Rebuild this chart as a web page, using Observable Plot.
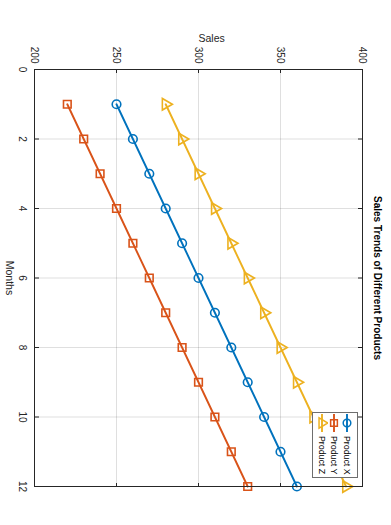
<!DOCTYPE html>
<html>
<head>
<meta charset="utf-8">
<script src="https://cdn.jsdelivr.net/npm/d3@7"></script>
<script src="https://cdn.jsdelivr.net/npm/@observablehq/plot@0.6"></script>
<style>
  html, body { margin: 0; padding: 0; background: #fff; }
  #page { position: relative; width: 391px; height: 525px; overflow: hidden; background: #fff; }
  #fig { position: absolute; left: 0; top: 0; width: 525px; height: 391px;
         transform-origin: 0 0; transform: translate(391px, 0) rotate(90deg); }
  #legend { position: absolute; left: 412px; top: 33px; width: 64px; padding: 4px 0 2px 0;
            background: #fff; border: 1px solid #6e6e6e; box-sizing: content-box;
            font-family: "Liberation Sans", Arial, sans-serif; font-size: 8.8px; color: #000; }
  #legend .row { display: flex; align-items: center; height: 12.5px; white-space: nowrap; }
  #legend svg { display: block; margin-left: 1px; margin-right: 4px; flex: none; }
</style>
</head>
<body>
<div id="page"><div id="fig"></div></div>
<script>
const titleText = "Sales Trends of Different Products";
const xLabel = "Months";
const yLabel = "Sales";
const series = ["Product X", "Product Y", "Product Z"];
const colors = ["#0072BD", "#D95319", "#EDB120"];
const symbols = ["circle", "square", "triangle"];
const months = [1, 2, 3, 4, 5, 6, 7, 8, 9, 10, 11, 12];
const productX = [250, 260, 270, 280, 290, 300, 310, 320, 330, 340, 350, 360];
const productY = [220, 230, 240, 250, 260, 270, 280, 290, 300, 310, 320, 330];
const productZ = [280, 290, 300, 310, 320, 330, 340, 350, 360, 370, 380, 390];
const xTicks = [0, 2, 4, 6, 8, 10, 12];
const yTicks = [200, 250, 300, 350, 400];

const values = [productX, productY, productZ];
const rows = series.flatMap((s, i) => months.map((m, j) => ({series: s, month: m, sales: values[i][j]})));

const axisColor = "#262626";
const font = "Liberation Sans, Arial, Helvetica, sans-serif";

const chart = Plot.plot({
  width: 525,
  height: 391,
  marginLeft: 69,
  marginRight: 39,
  marginTop: 28,
  marginBottom: 35,
  style: {fontFamily: font, fontSize: "10px", color: axisColor, background: "#fff", overflow: "visible"},
  x: {domain: [0, 12]},
  y: {domain: [200, 400]},
  color: {domain: series, range: colors},
  symbol: {domain: series, range: symbols},
  marks: [
    Plot.gridX(xTicks, {stroke: axisColor, strokeOpacity: 0.15, strokeWidth: 1}),
    Plot.gridY(yTicks, {stroke: axisColor, strokeOpacity: 0.15, strokeWidth: 1}),
    Plot.line(rows, {x: "month", y: "sales", z: "series", stroke: "series", strokeWidth: 1.9}),
    Plot.dot(rows, {x: "month", y: "sales", stroke: "series", symbol: "series", r: 4.3, strokeWidth: 1.6, fill: "none"}),
    Plot.frame({stroke: axisColor, strokeWidth: 1}),
    Plot.axisX(xTicks, {anchor: "bottom", tickSize: 4, dy: -4, tickPadding: 8, label: null, fill: axisColor}),
    Plot.axisX(xTicks, {anchor: "top", tickSize: 4, dy: 4, tickFormat: () => "", label: null}),
    Plot.axisY(yTicks, {anchor: "left", tickSize: 4, dx: 4, tickPadding: 6, label: null, fill: axisColor}),
    Plot.axisY(yTicks, {anchor: "right", tickSize: 4, dx: -4, tickFormat: () => "", label: null}),
    Plot.text([xLabel], {frameAnchor: "bottom", lineAnchor: "middle", dy: 25, fontSize: 10.5, fill: axisColor}),
    Plot.text([yLabel], {frameAnchor: "left", lineAnchor: "middle", dx: -31, rotate: -90, fontSize: 10.5, fill: axisColor}),
    Plot.text([titleText], {frameAnchor: "top", lineAnchor: "middle", dy: -15, fontSize: 10, fontWeight: "bold", fill: "#000"})
  ]
});

const fig = document.getElementById("fig");
fig.appendChild(chart);

// Legend (north-east, inside the axes)
const legend = d3.select(fig).append("div").attr("id", "legend");
series.forEach((s, i) => {
  const row = legend.append("div").attr("class", "row");
  const sw = row.append("svg").attr("width", 18).attr("height", 12);
  sw.append("line").attr("x1", 0).attr("x2", 18).attr("y1", 6).attr("y2", 6)
    .attr("stroke", colors[i]).attr("stroke-width", 1.9);
  const sym = {circle: d3.symbolCircle, square: d3.symbolSquare, triangle: d3.symbolTriangle}[symbols[i]];
  sw.append("path").attr("d", d3.symbol(sym, Math.PI * 3.8 * 3.8)())
    .attr("transform", "translate(9,6)").attr("fill", "none")
    .attr("stroke", colors[i]).attr("stroke-width", 1.5);
  row.append("span").text(s);
});
</script>
</body>
</html>
